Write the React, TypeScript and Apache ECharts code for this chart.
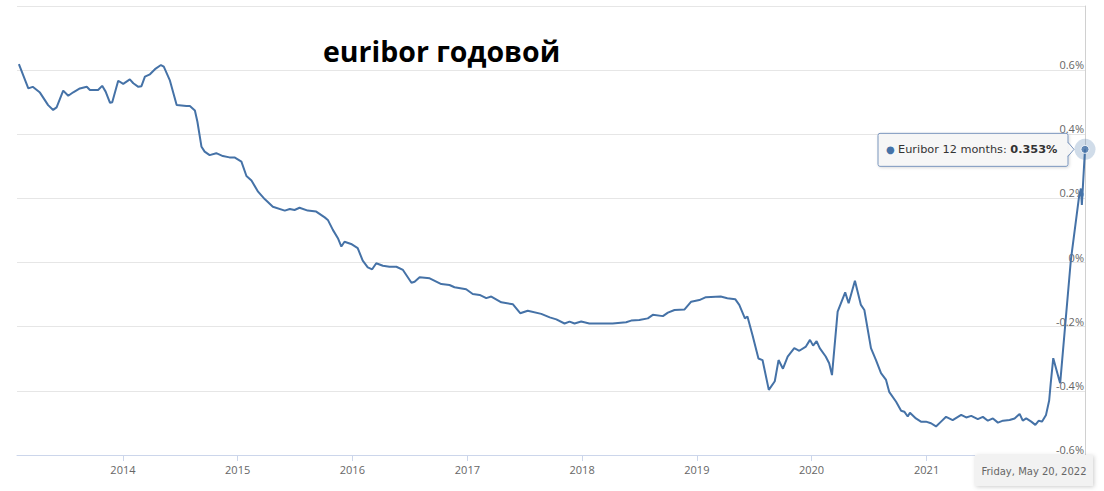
import React, { useEffect, useRef } from "react";
import * as echarts from "echarts";

const TITLE = "euribor годовой";
const SERIES_NAME = "Euribor 12 months";
const LINE_COLOR = "#4572A7";

const dates = [
  "2013-02-04", "2013-03-06", "2013-03-20", "2013-04-12", "2013-05-08", "2013-05-24", "2013-06-04",
  "2013-06-25", "2013-07-11", "2013-07-27", "2013-08-17", "2013-09-08", "2013-09-18", "2013-10-14",
  "2013-10-27", "2013-11-07", "2013-11-21", "2013-11-28", "2013-12-17", "2014-01-02", "2014-01-23",
  "2014-02-03", "2014-02-19", "2014-03-01", "2014-03-12", "2014-03-28", "2014-04-13", "2014-05-02",
  "2014-05-11", "2014-05-30", "2014-06-21", "2014-07-22", "2014-08-02", "2014-08-18", "2014-08-26",
  "2014-09-08", "2014-09-18", "2014-10-04", "2014-10-25", "2014-11-15", "2014-12-06", "2014-12-22",
  "2015-01-13", "2015-01-29", "2015-02-14", "2015-03-07", "2015-03-28", "2015-04-23", "2015-05-31",
  "2015-06-16", "2015-07-01", "2015-07-17", "2015-08-12", "2015-09-08", "2015-10-05", "2015-10-15",
  "2015-10-31", "2015-11-16", "2015-11-27", "2015-12-07", "2015-12-28", "2016-01-18", "2016-02-03",
  "2016-02-19", "2016-03-04", "2016-03-17", "2016-04-07", "2016-04-28", "2016-05-20", "2016-06-10",
  "2016-07-07", "2016-07-17", "2016-08-02", "2016-09-03", "2016-10-10", "2016-11-05", "2016-11-21",
  "2016-12-28", "2017-01-18", "2017-02-09", "2017-03-02", "2017-03-18", "2017-04-19", "2017-05-26",
  "2017-06-18", "2017-07-12", "2017-08-24", "2017-09-20", "2017-10-11", "2017-11-06", "2017-11-22",
  "2017-12-08", "2017-12-29", "2018-01-24", "2018-02-25", "2018-04-08", "2018-05-21", "2018-06-06",
  "2018-07-02", "2018-07-29", "2018-08-14", "2018-09-15", "2018-10-01", "2018-10-22", "2018-11-23",
  "2018-12-14", "2019-01-09", "2019-01-30", "2019-03-18", "2019-04-08", "2019-05-03", "2019-05-16",
  "2019-06-03", "2019-06-11", "2019-06-27", "2019-07-16", "2019-07-29", "2019-08-18", "2019-09-06",
  "2019-09-18", "2019-10-02", "2019-10-17", "2019-11-07", "2019-11-23", "2019-12-14", "2019-12-27",
  "2020-01-06", "2020-01-17", "2020-01-27", "2020-02-15", "2020-02-26", "2020-03-06", "2020-03-24",
  "2020-04-17", "2020-04-28", "2020-05-18", "2020-06-06", "2020-06-17", "2020-07-08", "2020-07-24",
  "2020-08-09", "2020-08-25", "2020-09-04", "2020-09-26", "2020-10-12", "2020-10-22", "2020-11-02",
  "2020-11-09", "2020-11-28", "2020-12-14", "2020-12-30", "2021-01-15", "2021-01-31", "2021-02-16",
  "2021-03-04", "2021-03-25", "2021-04-21", "2021-05-07", "2021-05-23", "2021-06-13", "2021-06-29",
  "2021-07-15", "2021-07-31", "2021-08-16", "2021-09-01", "2021-09-22", "2021-10-08", "2021-10-24",
  "2021-11-03", "2021-11-14", "2021-11-30", "2021-12-13", "2021-12-24", "2022-01-03", "2022-01-16",
  "2022-01-26", "2022-01-31", "2022-02-08", "2022-02-27", "2022-03-02", "2022-04-05", "2022-05-01",
  "2022-05-07", "2022-05-10", "2022-05-20",
];

const values = [
  0.619, 0.543, 0.548, 0.530, 0.491, 0.476, 0.484,
  0.536, 0.520, 0.531, 0.543, 0.548, 0.538, 0.538,
  0.551, 0.533, 0.498, 0.500, 0.567, 0.557, 0.571,
  0.559, 0.548, 0.550, 0.580, 0.587, 0.603, 0.616,
  0.611, 0.569, 0.491, 0.488, 0.488, 0.474, 0.439,
  0.361, 0.346, 0.335, 0.341, 0.332, 0.328, 0.328,
  0.315, 0.270, 0.256, 0.221, 0.198, 0.174, 0.162,
  0.167, 0.164, 0.171, 0.162, 0.159, 0.141, 0.133,
  0.102, 0.076, 0.050, 0.065, 0.058, 0.045, 0.006,
  -0.015, -0.021, -0.002, -0.010, -0.013, -0.013, -0.023,
  -0.063, -0.060, -0.046, -0.049, -0.067, -0.070, -0.077,
  -0.083, -0.098, -0.101, -0.111, -0.106, -0.124, -0.130,
  -0.158, -0.150, -0.160, -0.171, -0.177, -0.190, -0.184,
  -0.190, -0.184, -0.190, -0.190, -0.190, -0.186, -0.181,
  -0.179, -0.174, -0.163, -0.167, -0.156, -0.148, -0.146,
  -0.122, -0.117, -0.108, -0.106, -0.111, -0.114, -0.132,
  -0.174, -0.168, -0.226, -0.299, -0.304, -0.397, -0.370,
  -0.304, -0.331, -0.293, -0.267, -0.275, -0.262, -0.241,
  -0.259, -0.245, -0.267, -0.293, -0.314, -0.351, -0.153,
  -0.093, -0.127, -0.057, -0.132, -0.148, -0.267, -0.304,
  -0.345, -0.366, -0.403, -0.434, -0.462, -0.465, -0.480,
  -0.468, -0.486, -0.496, -0.496, -0.501, -0.511, -0.496,
  -0.481, -0.491, -0.475, -0.483, -0.478, -0.488, -0.481,
  -0.493, -0.486, -0.499, -0.493, -0.491, -0.486, -0.472,
  -0.493, -0.486, -0.496, -0.506, -0.493, -0.496, -0.475,
  -0.430, -0.376, -0.298, -0.366, -0.376, 0.008, 0.205,
  0.231, 0.180, 0.353,
];

const Y_MIN = -0.6;
const Y_MAX = 0.8;
const Y_STEP = 0.2;
const X_MIN = "2013-01-29";
const X_MAX = "2022-05-20";

const WEEKDAYS = ["Sunday", "Monday", "Tuesday", "Wednesday", "Thursday", "Friday", "Saturday"];
const MONTHS = ["Jan", "Feb", "Mar", "Apr", "May", "Jun", "Jul", "Aug", "Sep", "Oct", "Nov", "Dec"];

function formatLongDate(s: string) {
  const [y, m, d] = s.split("-").map(Number);
  const dt = new Date(Date.UTC(y, m - 1, d));
  return `${WEEKDAYS[dt.getUTCDay()]}, ${MONTHS[m - 1]} ${d}, ${y}`;
}

export default function App() {
  const ref = useRef<HTMLDivElement>(null);
  useEffect(() => {
    document.body.style.margin = "0";
    const chart = echarts.init(ref.current!, null, { renderer: "svg" });
    const data = dates.map((d, i) => [d, values[i]]);
    const last = data[data.length - 1];
    const axisFont = "Open Sans";
    const maxTime = new Date(X_MAX).getTime();
    const HALF_YEAR = 182 * 86400000;
    chart.setOption({
      animation: false,
      backgroundColor: "#ffffff",
      title: {
        text: TITLE,
        left: 318,
        top: 31,
        textStyle: { fontFamily: "Open Sans", fontWeight: "bold", fontSize: 28.5, color: "#000000" },
      },
      grid: { left: 17, right: 19, top: 6, bottom: 36, containLabel: false },
      xAxis: {
        type: "time",
        min: X_MIN,
        max: X_MAX,
        minInterval: 365 * 86400000,
        maxInterval: 366 * 86400000,
        axisLine: { show: true, onZero: false, lineStyle: { color: "#ccd6eb", width: 1 } },
        axisTick: { show: true, length: 6, lineStyle: { color: "#ccd6eb" } },
        splitLine: { show: false },
        axisLabel: {
          color: "#666666",
          fontFamily: axisFont,
          fontSize: 11,
          margin: 9,
          showMinLabel: false,
          showMaxLabel: false,
          formatter: (v: number) => (maxTime - v < HALF_YEAR ? "" : String(new Date(v).getFullYear())),
        },
      },
      yAxis: {
        type: "value",
        position: "right",
        min: Y_MIN,
        max: Y_MAX,
        interval: Y_STEP,
        axisLine: { show: true, lineStyle: { color: "#d0d0d0", width: 1 } },
        axisTick: { show: false },
        splitLine: { show: true, lineStyle: { color: "#e6e6e6", width: 1 } },
        axisLabel: {
          inside: true,
          margin: 1,
          verticalAlign: "bottom",
          color: "#666666",
          fontFamily: axisFont,
          fontSize: 11,
          showMaxLabel: false,
          formatter: (v: number) => `${Number(v.toFixed(1))}%`,
        },
      },
      series: [
        {
          name: SERIES_NAME,
          type: "line",
          data,
          showSymbol: false,
          symbol: "none",
          lineStyle: { color: LINE_COLOR, width: 2 },
          z: 2,
        },
        {
          type: "scatter",
          data: [last],
          symbolSize: 21,
          itemStyle: { color: LINE_COLOR, opacity: 0.25 },
          silent: true,
          z: 3,
        },
        {
          type: "scatter",
          data: [last],
          symbolSize: 8,
          itemStyle: { color: LINE_COLOR, borderColor: "#ffffff", borderWidth: 1 },
          silent: true,
          z: 4,
        },
      ],
    });

    const [px, py] = chart.convertToPixel({ seriesIndex: 0 }, last) as number[];
    const boxRight = px - 17;
    const boxLeft = px - 207;
    const boxTop = py - 16;
    const boxH = 33;
    const fill = "rgba(247,247,247,0.95)";
    const stroke = "#7b96bd";
    const W = 1104;
    const H = 491;
    const dlW = 118;
    const dlRight = W - 11;
    chart.setOption({
      graphic: [
        {
          type: "rect",
          shape: { x: boxLeft, y: boxTop, width: boxRight - boxLeft, height: boxH, r: 2 },
          style: { fill, stroke, lineWidth: 1, shadowBlur: 3, shadowColor: "rgba(0,0,0,0.15)", shadowOffsetX: 1, shadowOffsetY: 1 },
          z: 100,
        },
        {
          type: "polygon",
          shape: { points: [[boxRight - 1, py - 7], [boxRight + 6, py], [boxRight - 1, py + 7]] },
          style: { fill, stroke: "none" },
          z: 101,
        },
        {
          type: "polyline",
          shape: { points: [[boxRight, py - 7], [boxRight + 6, py], [boxRight, py + 7]] },
          style: { stroke, lineWidth: 1, fill: "none" },
          z: 101,
        },
        {
          type: "text",
          x: boxLeft + 8,
          y: py,
          z: 102,
          style: {
            text: `{dot|●} {n|${SERIES_NAME}: }{b|${(last[1] as number).toFixed(3)}%}`,
            verticalAlign: "middle",
            rich: {
              dot: { fill: LINE_COLOR, fontSize: 10, fontFamily: "DejaVu Sans" },
              n: { fill: "#333333", fontSize: 11.3, fontFamily: "DejaVu Sans" },
              b: { fill: "#333333", fontSize: 11.3, fontFamily: "DejaVu Sans", fontWeight: "bold" },
            },
          },
        },
        {
          type: "rect",
          shape: { x: dlRight - dlW, y: H - 36, width: dlW, height: 31 },
          style: { fill: "#f2f2f2", stroke: "none", shadowBlur: 4, shadowColor: "rgba(0,0,0,0.2)", shadowOffsetX: 1, shadowOffsetY: 1 },
          z: 100,
        },
        {
          type: "text",
          x: dlRight - dlW / 2,
          y: H - 20,
          z: 101,
          style: {
            text: formatLongDate(dates[dates.length - 1]),
            align: "center",
            verticalAlign: "middle",
            fill: "#666666",
            fontSize: 10,
            fontFamily: "DejaVu Sans",
          },
        },
      ],
    });
    return () => chart.dispose();
  }, []);
  return <div ref={ref} style={{ width: 1104, height: 491 }} />;
}
